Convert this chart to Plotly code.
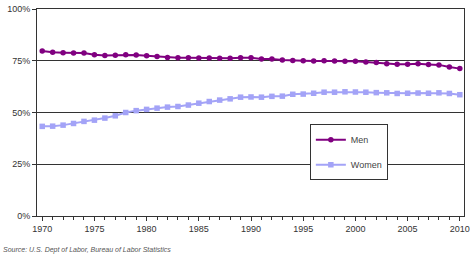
import plotly.graph_objects as go

years = list(range(1970, 2011))
men = [79.7, 79.1, 78.9, 78.8, 78.7, 77.9, 77.5, 77.7, 77.9, 77.8,
       77.4, 77.0, 76.6, 76.4, 76.4, 76.3, 76.3, 76.2, 76.2, 76.4,
       76.4, 75.8, 75.8, 75.4, 75.1, 75.0, 74.9, 75.0, 74.9, 74.7,
       74.8, 74.4, 74.1, 73.5, 73.3, 73.3, 73.5, 73.2, 73.0, 72.0, 71.2]
women = [43.3, 43.4, 43.9, 44.7, 45.7, 46.3, 47.3, 48.4, 50.0, 50.9,
         51.5, 52.1, 52.6, 52.9, 53.6, 54.5, 55.3, 56.0, 56.6, 57.4,
         57.5, 57.4, 57.8, 57.9, 58.8, 58.9, 59.3, 59.8, 59.8, 60.0,
         59.9, 59.8, 59.6, 59.5, 59.2, 59.3, 59.4, 59.3, 59.5, 59.2, 58.6]
y_ticks = [0, 25, 50, 75, 100]
y_labels = ["0%", "25%", "50%", "75%", "100%"]
x_ticks = [1970, 1975, 1980, 1985, 1990, 1995, 2000, 2005, 2010]

fig = go.Figure()
fig.add_trace(go.Scatter(x=years, y=men, name="Men", mode="lines+markers",
                         line=dict(color="#800080", width=2),
                         marker=dict(symbol="circle", size=5.5, color="#800080"),
                         legendgroup="m"))
fig.add_trace(go.Scatter(x=years, y=women, name="Women", mode="lines+markers",
                         line=dict(color="#A3A3F7", width=2),
                         marker=dict(symbol="square", size=5.5, color="#A3A3F7"),
                         legendgroup="w"))

fig.update_layout(
    width=474, height=257,
    margin=dict(l=37, r=8, t=4, b=41),
    paper_bgcolor="white", plot_bgcolor="white",
    font=dict(family="Arial, Liberation Sans, sans-serif", size=9, color="#333333"),
    legend=dict(x=0.639, y=0.443, xanchor="left", yanchor="top",
                bgcolor="white", bordercolor="#333333", borderwidth=1,
                font=dict(size=9, color="#444444"),
                traceorder="grouped", tracegroupgap=6,
                itemwidth=30),
    xaxis=dict(range=[1969.5, 2010.4], tickvals=x_ticks, ticks="outside",
               ticklen=4, tickcolor="#333333", showgrid=False,
               showline=True, linecolor="#333333", linewidth=1, mirror=True,
               minor=dict(dtick=1, tick0=1970, ticks="outside", ticklen=3,
                          tickcolor="#333333", showgrid=False),
               zeroline=False, fixedrange=True),
    yaxis=dict(range=[0, 100], tickvals=y_ticks, ticktext=y_labels,
               ticks="outside", ticklen=4, tickcolor="#333333",
               showgrid=True, gridcolor="#333333", gridwidth=1,
               showline=True, linecolor="#333333", linewidth=1, mirror=True,
               zeroline=False, fixedrange=True),
    annotations=[dict(text="<i>Source: U.S. Dept of Labor, Bureau of Labor Statistics</i>",
                      xref="paper", yref="paper", x=-0.085, y=-0.165,
                      xanchor="left", yanchor="middle", showarrow=False,
                      font=dict(size=7, color="#555555"))],
)

fig.write_html("out.html")
